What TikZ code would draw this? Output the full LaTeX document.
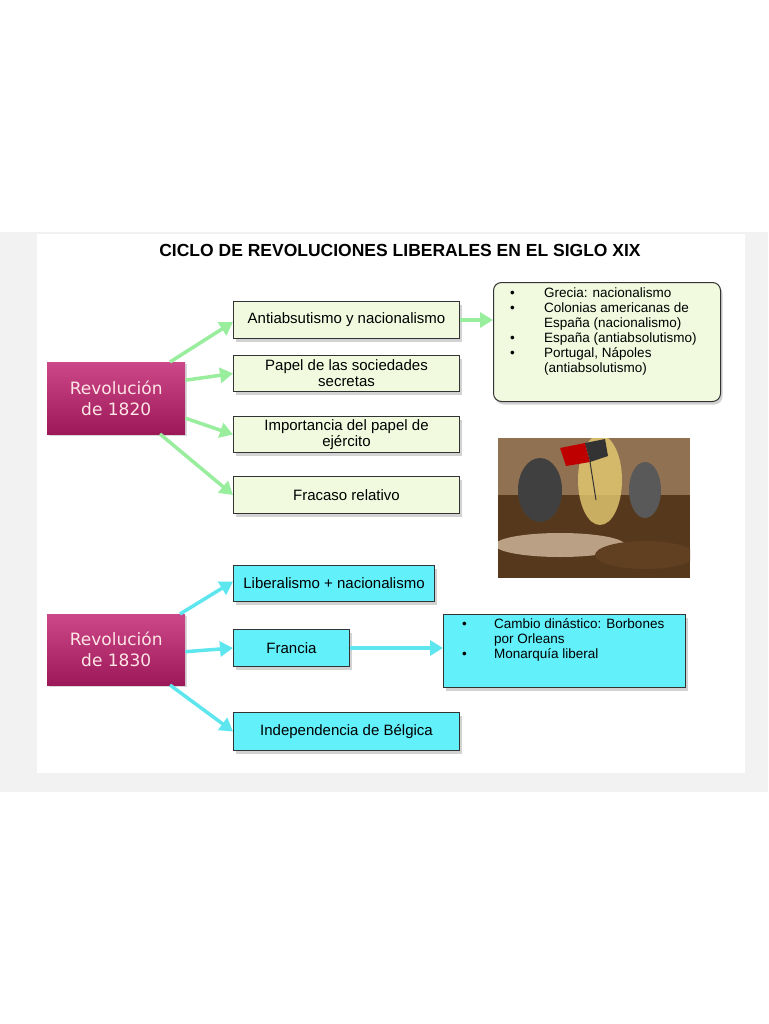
\documentclass[tikz,border=0pt]{standalone}
\usepackage{fontspec}
\setmainfont{Liberation Sans}
\newfontfamily\verd{DejaVu Sans}
\usetikzlibrary{arrows.meta,shadows}
\definecolor{gfill}{HTML}{F1FADF}
\definecolor{cfill}{HTML}{62F0FB}
\definecolor{garr}{HTML}{98EE9C}
\definecolor{carr}{HTML}{5EE6EE}
\definecolor{magt}{HTML}{CC4888}
\definecolor{magb}{HTML}{9C1858}
\begin{document}
\begin{tikzpicture}[x=1pt,y=-1pt,
  box/.style={draw=black!80,line width=1pt,drop shadow={shadow xshift=2pt,shadow yshift=-3pt,opacity=0.35},font=\fontsize{15}{16}\selectfont,align=center,inner sep=0pt,anchor=north west},
  gbox/.style={box,fill=gfill},
  cbox/.style={box,fill=cfill},
  rev/.style={anchor=north west,inner sep=0pt,top color=magt,bottom color=magb,text=pink!40,font=\verd\fontsize{17}{21}\selectfont,align=center,drop shadow={shadow xshift=2pt,shadow yshift=-2pt,opacity=0.3}},
  garrow/.style={draw=garr,line width=3.5pt,-{Triangle[length=13pt,width=15pt]}},
  carrow/.style={draw=carr,line width=3.5pt,-{Triangle[length=13pt,width=15pt]}},
  lst/.style={font=\fontsize{13.5}{15}\selectfont,align=left,anchor=north west,inner sep=0pt}]
\useasboundingbox (0,0) rectangle (768,1024);
\fill[white] (0,0) rectangle (768,1024);
\fill[black!5] (0,232) rectangle (768,792);
\fill[white] (37,234) rectangle (745,773);
\node[font=\bfseries\fontsize{17.5}{18}\selectfont] (title) at (400,250) {CICLO DE REVOLUCIONES LIBERALES EN EL SIGLO XIX};
% 1820
\node[rev,minimum width=138pt,minimum height=72pt] (r20) at (47,362) {Revolución\\de 1820};
\node[gbox,minimum width=226pt,minimum height=37pt] (a1) at (233,301) {Antiabsutismo y nacionalismo};
\node[gbox,minimum width=226pt,minimum height=36pt] (a2) at (233,355) {Papel de las sociedades\\secretas};
\node[gbox,minimum width=226pt,minimum height=36pt] (a3) at (233,416) {Importancia del papel de\\ejército};
\node[gbox,minimum width=226pt,minimum height=37pt] (a4) at (233,476) {Fracaso relativo};
\node[gbox,rounded corners=8pt,minimum width=227pt,minimum height=119pt] (l1) at (493,282) {};
\node[lst] (l1t) at (510,287) {\begin{tabular}{@{}p{34pt}@{}l@{}}
•&Grecia: nacionalismo\\
•&Colonias americanas de\\
 &España (nacionalismo)\\
•&España (antiabsolutismo)\\
•&Portugal, Nápoles\\
 &(antiabsolutismo)\end{tabular}};
\coordinate (s1) at (170,362);
\coordinate (s4) at (160,434);
\draw[garrow] (s1) -- (a1.west |- 0,322) ;
\draw[garrow] ([yshift=18pt]r20.east) -- (a2.west);
\draw[garrow] ([yshift=-20pt]r20.east) -- (a3.west);
\draw[garrow] (s4) -- (a4.west);
\draw[garrow] (a1.east) -- (l1.west |- a1.east);
% painting
\node[anchor=north west,inner sep=0pt,minimum width=192pt,minimum height=140pt,fill=brown!45!black] (pic) at (498,438) {};
\begin{scope}
\clip (498,438) rectangle (690,578);
\fill[brown!50!gray,opacity=0.8] (498,438) rectangle (690,495);
\fill[yellow!40!brown!70,opacity=0.8] (600,480) ellipse (22pt and 45pt);
\fill[black!75] (540,490) ellipse (22pt and 32pt);
\fill[black!65] (645,490) ellipse (16pt and 28pt);
\fill[brown!40!white,opacity=0.7] (560,545) ellipse (65pt and 12pt);
\fill[black!50!brown] (645,555) ellipse (50pt and 14pt);
\fill[red!75!black] (560,448) -- (585,443) -- (590,462) -- (566,466) -- cycle;
\fill[black!80] (585,443) -- (605,439) -- (608,456) -- (590,462) -- cycle;
\draw[black!80,line width=1pt] (590,462) -- (596,500);
\end{scope}
% 1830
\node[rev,minimum width=138pt,minimum height=71pt] (r30) at (47,614) {Revolución\\de 1830};
\node[cbox,minimum width=201pt,minimum height=36pt] (b1) at (233,565) {Liberalismo + nacionalismo};
\node[cbox,minimum width=116pt,minimum height=37pt] (b2) at (233,629) {Francia};
\node[cbox,minimum width=226pt,minimum height=38pt] (b3) at (233,712) {Independencia de Bélgica};
\node[cbox,minimum width=242pt,minimum height=73pt] (b4) at (443,614) {};
\node[lst] (b4t) at (462,618) {\begin{tabular}{@{}p{32pt}@{}l@{}}
•&Cambio dinástico: Borbones\\
 &por Orleans\\
•&Monarquía liberal\end{tabular}};
\coordinate (t1) at (180,614);
\coordinate (t3) at (170,685);
\draw[carrow] (t1) -- ([yshift=2pt]b1.west);
\draw[carrow] ([yshift=-2pt]r30.east) -- (b2.west);
\draw[carrow] (t3) -- (b3.west);
\draw[carrow] (b2.east) -- (b4.west |- b2.east);
\end{tikzpicture}
\end{document}
